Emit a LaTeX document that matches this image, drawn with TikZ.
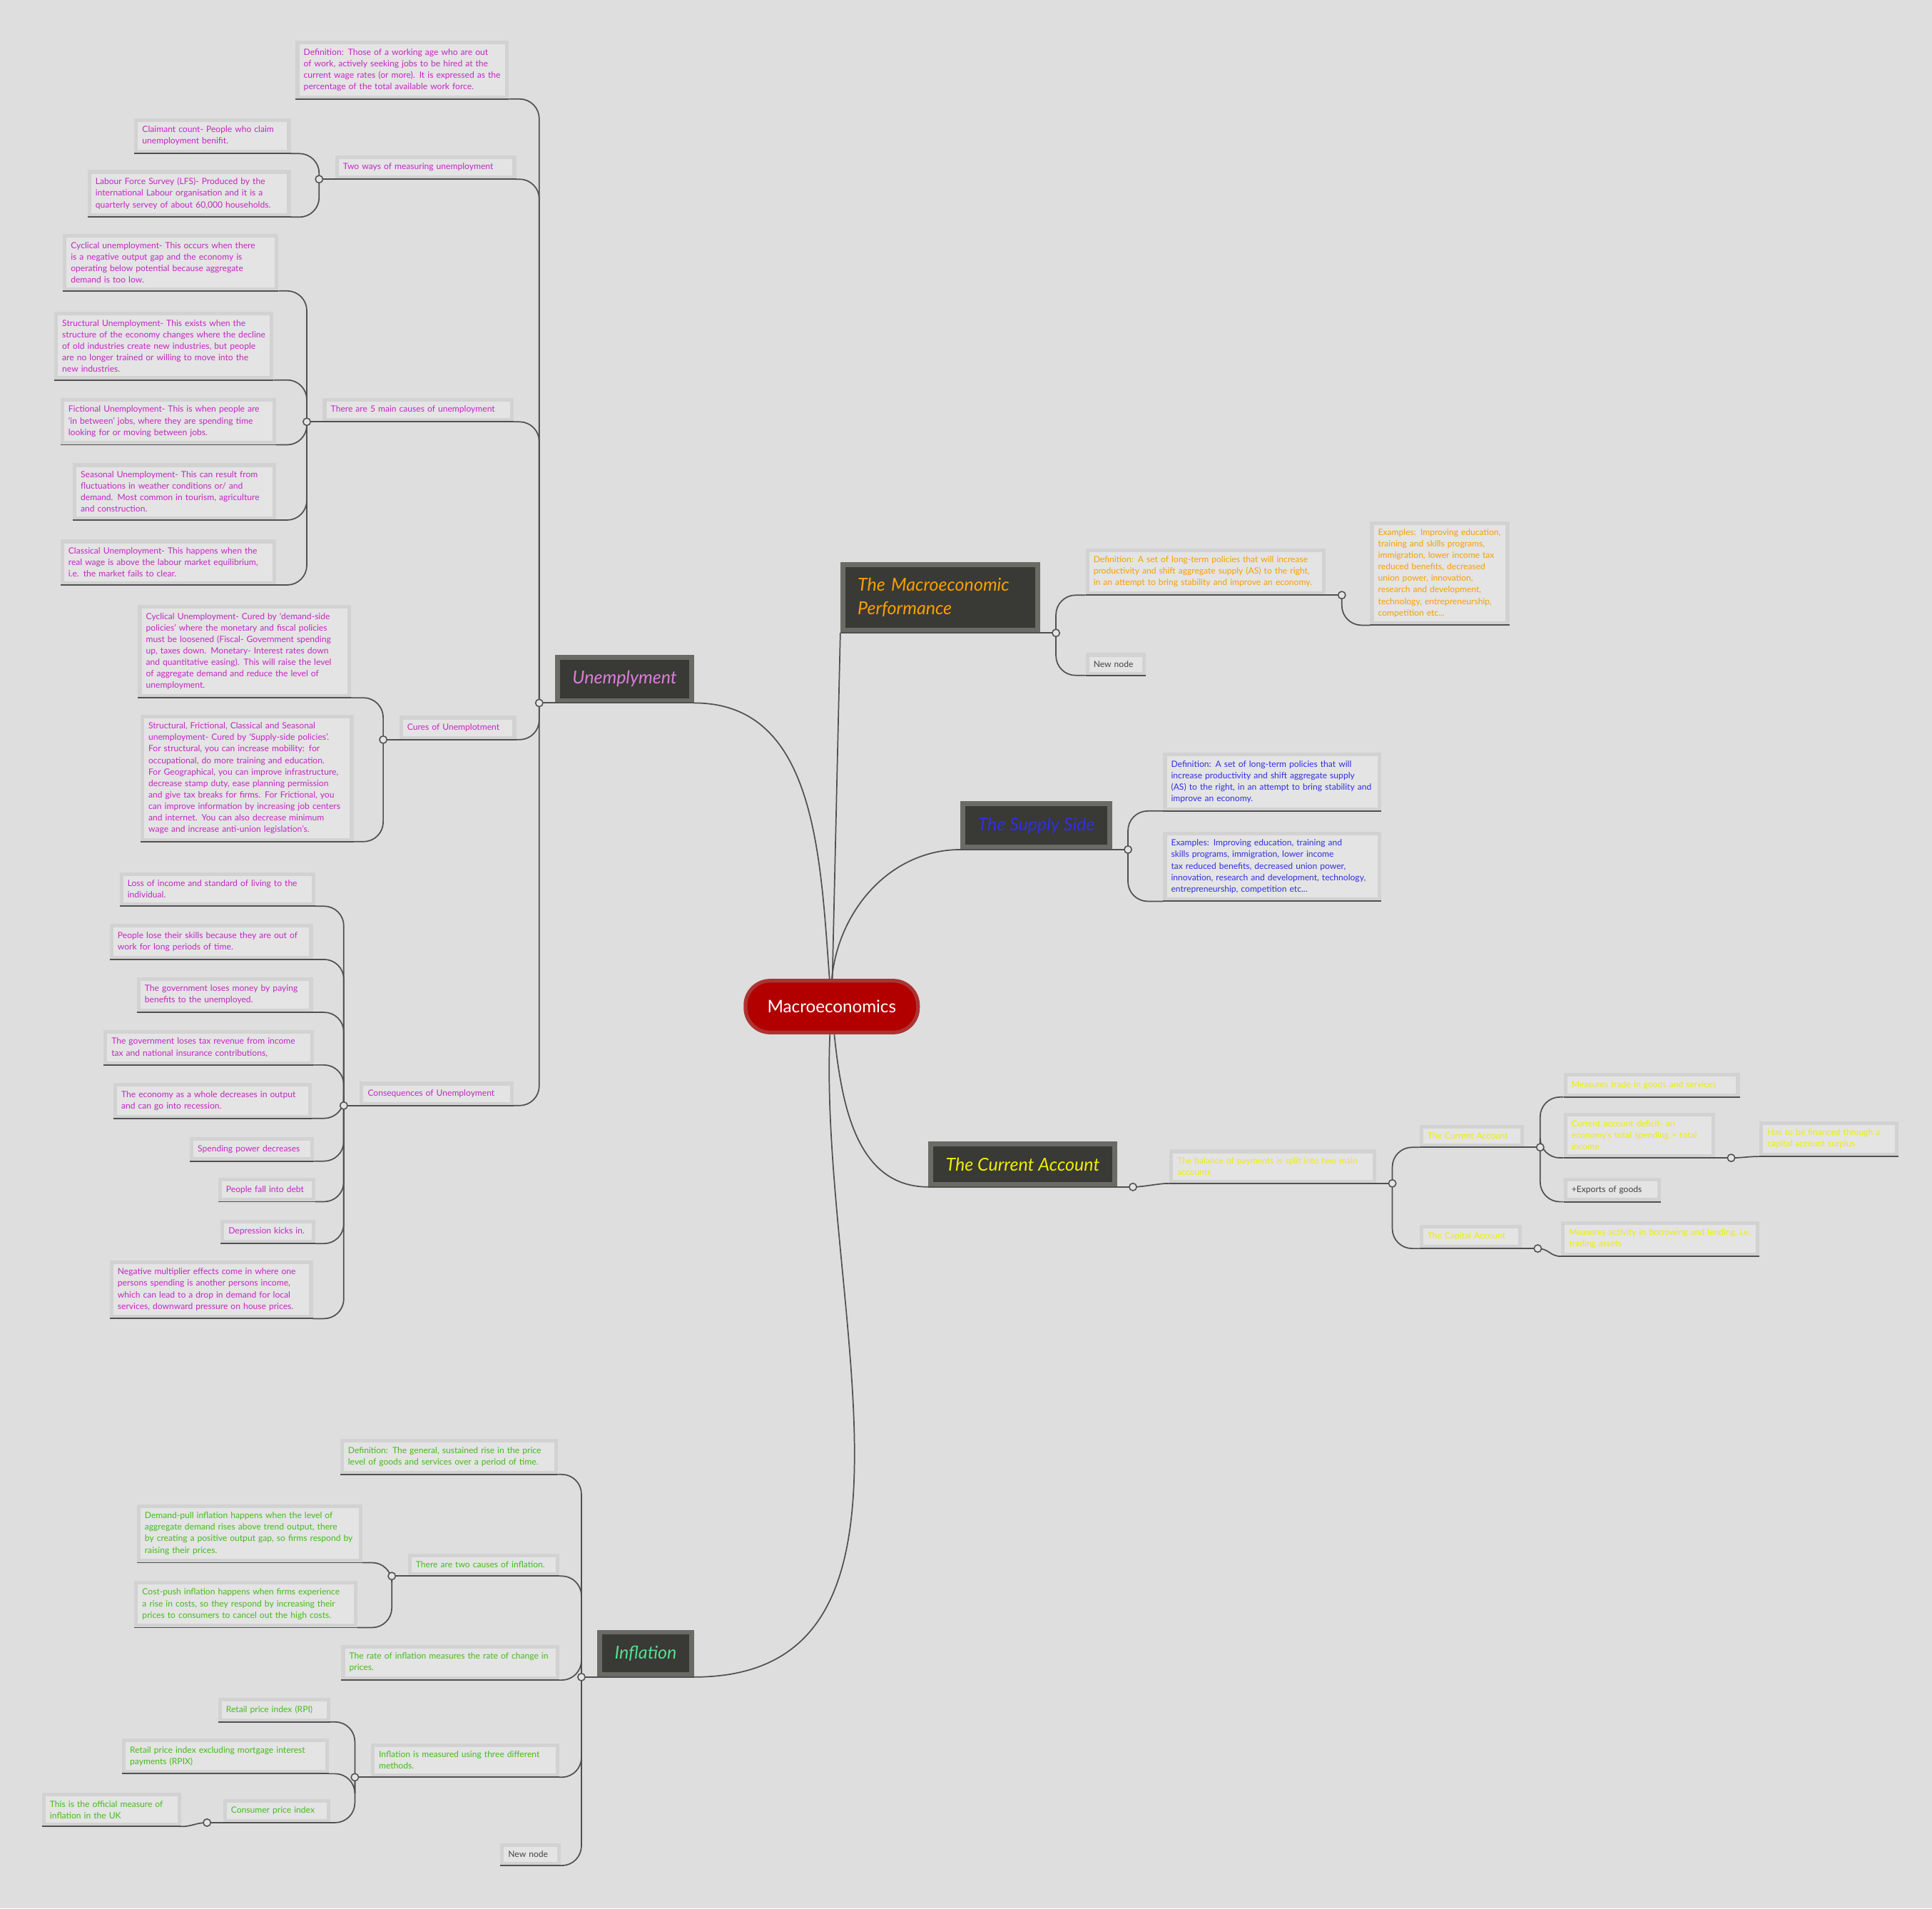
\documentclass[tikz,border=0pt]{standalone}
\usepackage{fontspec}
\setmainfont{Lato}
\usetikzlibrary{calc}
\hyphenpenalty=10000
\exhyphenpenalty=10000
\definecolor{bgc}{HTML}{DEDEDE}
\definecolor{boxf}{HTML}{E4E4E4}
\definecolor{boxb}{HTML}{D2D2D2}
\definecolor{lnc}{HTML}{505050}
\definecolor{mag}{HTML}{C228C2}
\definecolor{grn}{HTML}{44BB1A}
\definecolor{org}{HTML}{F5A000}
\definecolor{blu}{HTML}{3030E0}
\definecolor{yel}{HTML}{EEEE00}
\definecolor{dk}{HTML}{444444}
\definecolor{hfill}{HTML}{393935}
\definecolor{hbord}{HTML}{6B6B66}
\pgfdeclarelayer{bg}
\pgfsetlayers{bg,main}
\tikzset{
 leaf/.style={anchor=north west,fill=boxf,draw=boxb,line width=3pt,inner sep=5pt,align=left,font=\fontsize{7}{9.3}\selectfont},
 head/.style={fill=hfill,draw=hbord,line width=4pt,inner xsep=12pt,inner ysep=11pt,font=\fontsize{14.5}{19}\selectfont\itshape,align=left},
 ul/.style={draw=lnc,line width=1.1pt},
 conn/.style={draw=lnc,line width=1pt,rounded corners=16pt},
 mconn/.style={draw=lnc,line width=1pt},
 jct/.style={circle,draw=lnc,fill=boxf,line width=0.9pt,inner sep=0pt,minimum size=6pt}
}
\newcommand\leaf[6]{\node[leaf,text width=#4pt,text=#5] (#1) at (#2,#3) {#6};\draw[ul] (#1.south west) -- (#1.south east);}
\newcommand\Rj[1]{\coordinate (j#1) at ([xshift=13pt]#1.south east);\draw[ul] (#1.south east) -- (j#1);}
\newcommand\Lj[1]{\coordinate (j#1) at ([xshift=-13pt]#1.south west);\draw[ul] (#1.south west) -- (j#1);}
\newcommand\rc[2]{\draw[conn] (j#1) |- (#2.south west);}
\newcommand\lc[2]{\draw[conn] (#2.south east) -| (j#1);}
\newcommand\rs[2]{\draw[mconn] (j#1) .. controls +(9,0) and +(-9,0) .. (#2.south west);}
\newcommand\ls[2]{\draw[mconn] (#2.south east) .. controls +(9,0) and +(-9,0) .. (j#1);}
\newcommand\jc[1]{\node[jct] at (j#1) {};}
\begin{document}
\begin{tikzpicture}[x=1pt,y=-1pt]
\useasboundingbox (0,0) rectangle (1568,1549);
\begin{pgfonlayer}{bg}
\fill[bgc] (0,0) rectangle (1568,1549);
\end{pgfonlayer}
% main
\node[fill=red!70!black,draw=red!60!black!80,line width=3pt,rounded corners=20pt,minimum width=140pt,minimum height=42pt,text=white,font=\fontsize{14}{16}\selectfont] (M) at (675,817) {Macroeconomics};
% headings
\node[head,text=org,text width=134pt] (hMP) at (763,485) {The Macroeconomic\\Performance};
\node[head,text=blu] (hSS) at (841,670) {The Supply Side};
\node[head,text=yel] (hCA) at (830,945) {The Current Account};
\node[head,text=mag!60!white] (hUn) at (507,551) {Unemplyment};
\node[head,text=grn!60!cyan!80!white] (hIn) at (524,1342) {Inflation};
\begin{pgfonlayer}{bg}
\draw[mconn] (M.center) -- (hMP.south west);
\draw[mconn] (M.center) to[out=95,in=180] (hSS.south west);
\draw[mconn] (M.center) to[out=-85,in=180] (hCA.south west);
\draw[mconn] (M.center) to[out=95,in=0] (hUn.south east);
\draw[mconn] (M.center) to[out=-95,in=0] (hIn.south east);
\end{pgfonlayer}
\draw[ul] (hMP.south west) -- (hMP.south east);
\draw[ul] (hSS.south west) -- (hSS.south east);
\draw[ul] (hCA.south west) -- (hCA.south east);
\draw[ul] (hUn.south west) -- (hUn.south east);
\draw[ul] (hIn.south west) -- (hIn.south east);
\Rj{hMP}\Rj{hSS}\Rj{hCA}\Lj{hUn}\Lj{hIn}
% Macro performance
\leaf{mDef}{881}{445}{182}{org}{Definition: A set of long-term policies that will increase productivity and shift aggregate supply (AS) to the right, in an attempt to bring stability and improve an economy.}
\leaf{mEx}{1112}{423}{100}{org}{Examples: Improving education, training and skills programs, immigration, lower income tax reduced benefits, decreased union power, innovation, research and development, technology, entrepreneurship, competition etc...}
\leaf{mNew}{881}{530}{36}{dk}{New node}
\Rj{mDef}
\rc{hMP}{mDef}\rc{hMP}{mNew}\rc{mDef}{mEx}
% supply side
\leaf{sDef}{944}{611}{164}{blu}{Definition: A set of long-term policies that will increase productivity and shift aggregate supply (AS) to the right, in an attempt to bring stability and improve an economy.}
\leaf{sEx}{944}{675}{164}{blu}{Examples: Improving education, training and skills programs, immigration, lower income tax reduced benefits, decreased union power, innovation, research and development, technology, entrepreneurship, competition etc...}
\rc{hSS}{sDef}\rc{hSS}{sEx}
% current account
\leaf{cBal}{949}{933}{155}{yel}{The balance of payments is split into two main accounts}
\leaf{cCur}{1152}{913}{72}{yel}{The Current Account}
\leaf{cCap}{1152}{994}{70}{yel}{The Capital Account}
\leaf{cTr}{1269}{871}{130}{yel}{Measures trade in goods and services}
\leaf{cDef}{1269}{903}{110}{yel}{Current account deficit- an economy's total spending > total income}
\leaf{cFin}{1428}{910}{100}{yel}{Has to be financed through a capital account surplus}
\leaf{cExp}{1269}{956}{66}{dk}{+Exports of goods}
\leaf{cMe}{1267}{991}{148}{yel}{Measures activity in borrowing and lending, i.e. trading assets}
\Rj{cBal}\Rj{cCur}\Rj{cCap}\Rj{cDef}
\rs{hCA}{cBal}\rc{cBal}{cCur}\rc{cBal}{cCap}
\rc{cCur}{cTr}\rc{cCur}{cDef}\rc{cCur}{cExp}\rs{cDef}{cFin}\rs{cCap}{cMe}
% unemployment
\leaf{uDef}{240}{33}{160}{mag}{Definition: Those of a working age who are out of work, actively seeking jobs to be hired at the current wage rates (or more). It is expressed as the percentage of the total available work force.}
\leaf{uTwo}{272}{126}{134}{mag}{Two ways of measuring unemployment}
\leaf{uCl}{109}{96}{114}{mag}{Claimant count- People who claim unemployment benifit.}
\leaf{uLFS}{71}{138}{152}{mag}{Labour Force Survey (LFS)- Produced by the international Labour organisation and it is a quarterly servey of about 60,000 households.}
\leaf{uFive}{262}{323}{142}{mag}{There are 5 main causes of unemployment}
\leaf{uCyc}{51}{190}{162}{mag}{Cyclical unemployment- This occurs when there is a negative output gap and the economy is operating below potential because aggregate demand is too low.}
\leaf{uStr}{44}{253}{165}{mag}{Structural Unemployment- This exists when the structure of the economy changes where the decline of old industries create new industries, but people are no longer trained or willing to move into the new industries.}
\leaf{uFic}{49}{323}{162}{mag}{Fictional Unemployment- This is when people are `in between' jobs, where they are spending time looking for or moving between jobs.}
\leaf{uSea}{59}{376}{152}{mag}{Seasonal Unemployment- This can result from fluctuations in weather conditions or/ and demand. Most common in tourism, agriculture and construction.}
\leaf{uCla}{49}{438}{162}{mag}{Classical Unemployment- This happens when the real wage is above the labour market equilibrium, i.e. the market fails to clear.}
\leaf{uCures}{324}{581}{82}{mag}{Cures of Unemplotment}
\leaf{uCc}{112}{491}{160}{mag}{Cyclical Unemployment- Cured by `demand-side policies' where the monetary and fiscal policies must be loosened (Fiscal- Government spending up, taxes down. Monetary- Interest rates down and quantitative easing). This will raise the level of aggregate demand and reduce the level of unemployment.}
\leaf{uSc}{114}{580}{160}{mag}{Structural, Frictional, Classical and Seasonal unemployment- Cured by `Supply-side policies'. For structural, you can increase mobility: for occupational, do more training and education. For Geographical, you can improve infrastructure, decrease stamp duty, ease planning permission and give tax breaks for firms. For Frictional, you can improve information by increasing job centers and internet. You can also decrease minimum wage and increase anti-union legislation's.}
\leaf{uCons}{292}{878}{112}{mag}{Consequences of Unemployment}
\leaf{ca}{97}{708}{146}{mag}{Loss of income and standard of living to the individual.}
\leaf{cb}{89}{750}{152}{mag}{People lose their skills because they are out of work for long periods of time.}
\leaf{cc}{111}{793}{130}{mag}{The government loses money by paying benefits to the unemployed.}
\leaf{cd}{84}{836}{158}{mag}{The government loses tax revenue from income tax and national insurance contributions,}
\leaf{ce}{92}{879}{148}{mag}{The economy as a whole decreases in output and can go into recession.}
\leaf{cf}{154}{923}{88}{mag}{Spending power decreases}
\leaf{cg}{177}{956}{66}{mag}{People fall into debt}
\leaf{ch}{179}{990}{64}{mag}{Depression kicks in.}
\leaf{ci}{89}{1023}{152}{mag}{Negative multiplier effects come in where one persons spending is another persons income, which can lead to a drop in demand for local services, downward pressure on house prices.}
\Lj{uTwo}\Lj{uFive}\Lj{uCures}\Lj{uCons}
\lc{hUn}{uDef}\lc{hUn}{uTwo}\lc{hUn}{uFive}\lc{hUn}{uCures}\lc{hUn}{uCons}
\lc{uTwo}{uCl}\lc{uTwo}{uLFS}
\lc{uFive}{uCyc}\lc{uFive}{uStr}\lc{uFive}{uFic}\lc{uFive}{uSea}\lc{uFive}{uCla}
\lc{uCures}{uCc}\lc{uCures}{uSc}
\lc{uCons}{ca}\lc{uCons}{cb}\lc{uCons}{cc}\lc{uCons}{cd}\lc{uCons}{ce}\lc{uCons}{cf}\lc{uCons}{cg}\lc{uCons}{ch}\lc{uCons}{ci}
% inflation
\leaf{iDef}{276}{1168}{164}{grn}{Definition: The general, sustained rise in the price level of goods and services over a period of time.}
\leaf{iTwo}{331}{1261}{110}{grn}{There are two causes of inflation.}
\leaf{iDp}{111}{1221}{170}{grn}{Demand-pull inflation happens when the level of aggregate demand rises above trend output, there by creating a positive output gap, so firms respond by raising their prices.}
\leaf{iCp}{109}{1283}{168}{grn}{Cost-push inflation happens when firms experience a rise in costs, so they respond by increasing their prices to consumers to cancel out the high costs.}
\leaf{iRate}{277}{1335}{164}{grn}{The rate of inflation measures the rate of change in prices.}
\leaf{iMeas}{301}{1415}{140}{grn}{Inflation is measured using three different methods.}
\leaf{iRPI}{177}{1378}{78}{grn}{Retail price index (RPI)}
\leaf{iRPIX}{99}{1411}{155}{grn}{Retail price index excluding mortgage interest payments (RPIX)}
\leaf{iCPI}{181}{1460}{74}{grn}{Consumer price index}
\leaf{iOff}{34}{1455}{100}{grn}{This is the official measure of inflation in the UK}
\leaf{iNew}{406}{1496}{36}{dk}{New node}
\Lj{iTwo}\Lj{iMeas}\Lj{iCPI}
\lc{hIn}{iDef}\lc{hIn}{iTwo}\lc{hIn}{iRate}\lc{hIn}{iMeas}\lc{hIn}{iNew}
\lc{iTwo}{iDp}\lc{iTwo}{iCp}
\lc{iMeas}{iRPI}\lc{iMeas}{iRPIX}\lc{iMeas}{iCPI}\ls{iCPI}{iOff}
% junction circles
\jc{hMP}\jc{hSS}\jc{hCA}\jc{hUn}\jc{hIn}\jc{mDef}\jc{cBal}\jc{cCur}\jc{cCap}\jc{cDef}
\jc{uTwo}\jc{uFive}\jc{uCures}\jc{uCons}\jc{iTwo}\jc{iMeas}\jc{iCPI}
\end{tikzpicture}
\end{document}
